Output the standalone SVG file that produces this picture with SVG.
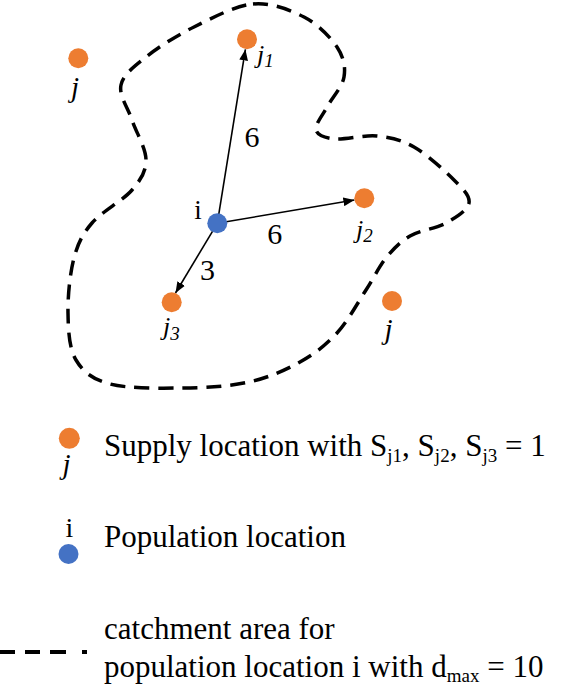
<svg xmlns="http://www.w3.org/2000/svg" width="573" height="690" viewBox="0 0 573 690">
<style>
  .sup { fill: #ED7D31; }
  .pop { fill: #4472C4; }
  .dash { fill: none; stroke: #000; stroke-width: 3.5; stroke-dasharray: 15 9; }
  .arrow { stroke: #000; stroke-width: 1.6; fill: none; marker-end: url(#ah); }
  text { font-family: "Liberation Serif", "Times New Roman", serif; fill: #000; }
  .lbl { font-size: 30px; }
  .it { font-style: italic; }
  .leg { font-size: 31px; }
</style>
<defs>
  <marker id="ah" viewBox="0 0 10 8" refX="10" refY="4" markerWidth="11" markerHeight="9" markerUnits="userSpaceOnUse" orient="auto">
    <path d="M0,0 L10,4 L0,8 z" fill="#000"/>
  </marker>
</defs>
<rect width="573" height="690" fill="#fff"/>
<g id="catchment">
  <path class="dash" d="M253,4 C271.3,2.3 290,9.8 304,17 C318,24.2 330.3,37 337,47 C343.7,57 345.7,67 344,77 C342.3,87 331.7,98.2 327,107 C322.3,115.8 314.7,124.7 316,130 C317.3,135.3 324.8,138 335,139 C345.2,140 363.8,134.7 377,136 C390.2,137.3 401.2,139.7 414,147 C426.8,154.3 444.8,170.7 454,180 C463.2,189.3 470.3,195.8 469,203 C467.7,210.2 455.8,217.5 446,223 C436.2,228.5 420,230.2 410,236 C400,241.8 393.3,249 386,258 C378.7,267 374.2,277.5 366,290 C357.8,302.5 348,321 337,333 C326,345 314.7,353.8 300,362 C285.3,370.2 268.5,377.7 249,382 C229.5,386.3 206.2,387.7 183,388 C159.8,388.3 127.8,388.7 110,384 C92.2,379.3 83,371.8 76,360 C69,348.2 68.3,330 68,313 C67.7,296 70,273 74,258 C78,243 82.3,234.3 92,223 C101.7,211.7 123,200.5 132,190 C141,179.5 146,171.7 146,160 C146,148.3 136.2,132.5 132,120 C127.8,107.5 118.7,95.5 121,85 C123.3,74.5 133.8,66.7 146,57 C158.2,47.3 176.2,35.8 194,27 C211.8,18.2 234.7,5.7 253,4 Z"/>
</g>
<g id="connectors">
  <line class="arrow" x1="217.3" y1="223.3" x2="245.4" y2="49.4"/>
  <line class="arrow" x1="217.3" y1="223.3" x2="354.4" y2="200"/>
  <line class="arrow" x1="217.3" y1="223.3" x2="175.5" y2="293"/>
  <text class="lbl" x="252" y="146.5" text-anchor="middle">6</text>
  <text class="lbl" x="274.7" y="244" text-anchor="middle">6</text>
  <text class="lbl" x="207.5" y="280" text-anchor="middle">3</text>
</g>
<g id="node-i">
  <circle class="pop" cx="217.3" cy="223.3" r="10"/>
  <text x="198" y="218.5" font-size="27" text-anchor="middle">i</text>
</g>
<g id="node-j1">
  <circle class="sup" cx="247" cy="39.3" r="10"/>
  <text class="it" x="257" y="63" font-size="26">j<tspan font-size="19" dy="4">1</tspan></text>
</g>
<g id="node-j2">
  <circle class="sup" cx="364.3" cy="198.3" r="10"/>
  <text class="it" x="356" y="238" font-size="26">j<tspan font-size="19" dy="4">2</tspan></text>
</g>
<g id="node-j3">
  <circle class="sup" cx="171.7" cy="302.3" r="10"/>
  <text class="it" x="163" y="335" font-size="26">j<tspan font-size="19" dy="5">3</tspan></text>
</g>
<g id="node-j-topleft">
  <circle class="sup" cx="78.3" cy="58.3" r="10"/>
  <text class="it" x="75" y="97" font-size="29" text-anchor="middle">j</text>
</g>
<g id="node-j-right">
  <circle class="sup" cx="392" cy="301" r="10"/>
  <text class="it" x="388.5" y="338.7" font-size="29" text-anchor="middle">j</text>
</g>
<g id="legend-supply">
  <circle class="sup" cx="69.3" cy="438.3" r="10.5"/>
  <text class="it" x="66.5" y="473.7" font-size="29" text-anchor="middle">j</text>
  <text class="leg" x="104" y="456">Supply location with S<tspan font-size="19" dy="6">j1</tspan><tspan dy="-6">, S</tspan><tspan font-size="19" dy="6">j2</tspan><tspan dy="-6">, S</tspan><tspan font-size="19" dy="6">j3</tspan><tspan dy="-6"> = 1</tspan></text>
</g>
<g id="legend-population">
  <text x="69.5" y="537" font-size="28" text-anchor="middle">i</text>
  <circle class="pop" cx="68.5" cy="554" r="10"/>
  <text class="leg" x="104" y="547">Population location</text>
</g>
<g id="legend-catchment">
  <line x1="0" y1="652" x2="87" y2="652" stroke="#000" stroke-width="4" stroke-dasharray="15 10 15 10 16 16 5"/>
  <text class="leg" x="104" y="639">catchment area for</text>
  <text class="leg" x="104" y="677">population location i with d<tspan font-size="19" dy="5">max</tspan><tspan dy="-5"> = 10</tspan></text>
</g>
</svg>
